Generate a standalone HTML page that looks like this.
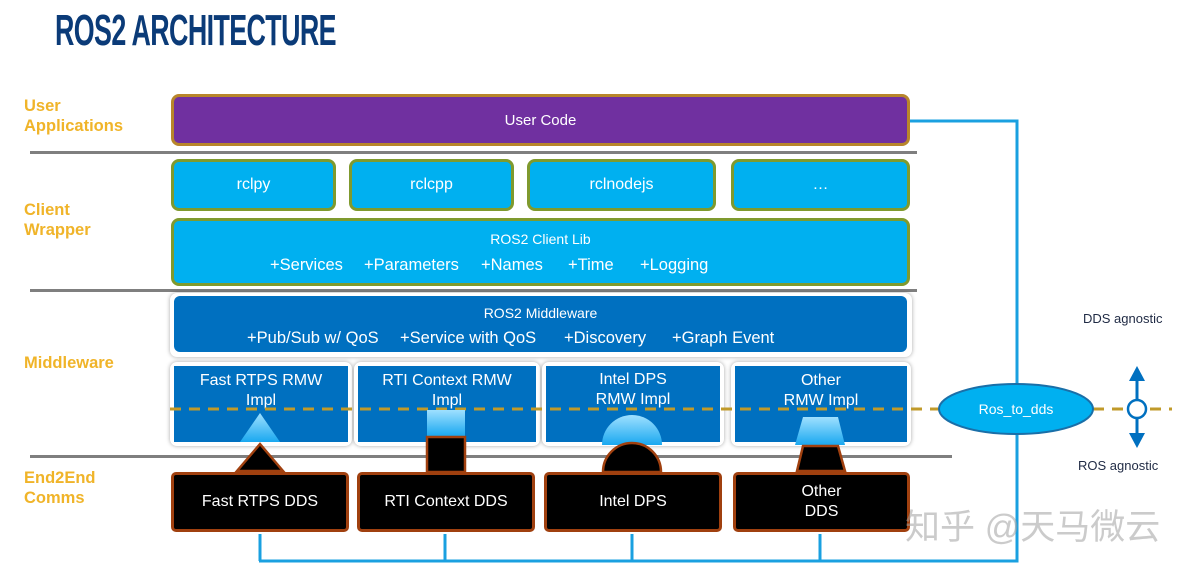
<!DOCTYPE html>
<html><head><meta charset="utf-8"><style>
body{margin:0;width:1195px;height:574px;background:#fff;position:relative;overflow:hidden;font-family:"Liberation Sans",Arial,sans-serif}
.a{position:absolute;box-sizing:border-box}
.lab{color:#f0b429;font-weight:bold;font-size:16.5px;line-height:20px;left:24px}
.g{background:#00b0f0;border:3px solid #7f9a2e;border-radius:8px;color:#fff;font-size:16px;display:flex;align-items:center;justify-content:center}
.sh{background:#fff;border-radius:7px;box-shadow:0 0 4px rgba(0,0,0,.35)}
.b{background:#0070c0;color:#fff;font-size:16px;text-align:center;line-height:20px}
.d{background:#000;border:3px solid #a0400f;border-radius:5px;color:#fff;font-size:16px;display:flex;align-items:center;justify-content:center;text-align:center;line-height:20px}
.t{position:absolute;color:#fff;font-size:16.5px;white-space:nowrap}
</style></head><body>
<div class="a" style="left:55px;top:6px;font-size:44px;font-weight:bold;color:#0b3b78;letter-spacing:-1px;transform:scaleX(0.61);transform-origin:left top;white-space:nowrap;font-family:'Liberation Sans Narrow','Liberation Sans',sans-serif">ROS2 ARCHITECTURE</div>
<div class="a lab" style="top:96px">User<br>Applications</div>
<div class="a lab" style="top:200px">Client<br>Wrapper</div>
<div class="a lab" style="top:353px">Middleware</div>
<div class="a lab" style="top:468px">End2End<br>Comms</div>
<div class="a" style="left:30px;top:151px;width:887px;height:3px;background:#7f7f7f"></div>
<div class="a" style="left:30px;top:289px;width:887px;height:3px;background:#7f7f7f"></div>
<div class="a" style="left:30px;top:455px;width:922px;height:3px;background:#7f7f7f"></div>
<div class="a" style="left:171px;top:94px;width:739px;height:52px;background:#7030a0;border:3px solid #b8862b;border-radius:8px;color:#fff;font-size:15px;display:flex;align-items:center;justify-content:center">User Code</div>
<div class="a g" style="left:171px;top:159px;width:165px;height:52px">rclpy</div>
<div class="a g" style="left:349px;top:159px;width:165px;height:52px">rclcpp</div>
<div class="a g" style="left:527px;top:159px;width:189px;height:52px">rclnodejs</div>
<div class="a g" style="left:731px;top:159px;width:179px;height:52px">…</div>
<div class="a g" style="left:171px;top:218px;width:739px;height:68px;display:block;text-align:center"><div style="font-size:14px;margin-top:10px">ROS2 Client Lib</div></div>
<span class="t" style="left:270px;top:256px">+Services</span>
<span class="t" style="left:364px;top:256px">+Parameters</span>
<span class="t" style="left:481px;top:256px">+Names</span>
<span class="t" style="left:568px;top:256px">+Time</span>
<span class="t" style="left:640px;top:256px">+Logging</span>
<div class="a sh" style="left:170px;top:293px;width:742px;height:64px"></div>
<div class="a b" style="left:174px;top:296px;width:733px;height:56px;border-radius:6px"><div style="font-size:14px;margin-top:7px">ROS2 Middleware</div></div>
<span class="t" style="left:247px;top:329px">+Pub/Sub w/ QoS</span>
<span class="t" style="left:400px;top:329px">+Service with QoS</span>
<span class="t" style="left:564px;top:329px">+Discovery</span>
<span class="t" style="left:672px;top:329px">+Graph Event</span>
<div class="a sh" style="left:170px;top:362px;width:182px;height:84px"></div>
<div class="a sh" style="left:354px;top:362px;width:186px;height:84px"></div>
<div class="a sh" style="left:542px;top:362px;width:182px;height:84px"></div>
<div class="a sh" style="left:731px;top:362px;width:180px;height:84px"></div>
<div class="a b" style="left:174px;top:366px;width:174px;height:76px;padding-top:5px">Fast RTPS RMW<br>Impl</div>
<div class="a b" style="left:358px;top:366px;width:178px;height:76px;padding-top:5px">RTI Context RMW<br>Impl</div>
<div class="a b" style="left:546px;top:366px;width:174px;height:76px;padding-top:4px">Intel DPS<br>RMW Impl</div>
<div class="a b" style="left:735px;top:366px;width:172px;height:76px;padding-top:5px">Other<br>RMW Impl</div>
<div class="a d" style="left:171px;top:472px;width:178px;height:60px">Fast RTPS DDS</div>
<div class="a d" style="left:357px;top:472px;width:178px;height:60px">RTI Context DDS</div>
<div class="a d" style="left:544px;top:472px;width:178px;height:60px">Intel DPS</div>
<div class="a d" style="left:733px;top:472px;width:177px;height:60px">Other<br>DDS</div>
<svg class="a" style="left:0;top:0" width="1195" height="574">
<defs><linearGradient id="lb" x1="0" y1="0" x2="0" y2="1"><stop offset="0" stop-color="#9fe0ff"/><stop offset="1" stop-color="#1aa8f0"/></linearGradient></defs>
<line x1="170" y1="409" x2="940" y2="409" stroke="#c09a2a" stroke-width="3" stroke-dasharray="11,8"/>
<line x1="1093" y1="409" x2="1172" y2="409" stroke="#c09a2a" stroke-width="3" stroke-dasharray="11,8"/>
<polygon points="260,413 240,442 280,442" fill="url(#lb)"/>
<polygon points="260,444 237,471 283,471" fill="#000" stroke="#a0400f" stroke-width="2.5"/>
<rect x="427" y="410" width="38" height="26" fill="url(#lb)"/>
<rect x="427" y="437" width="38" height="35" fill="#000" stroke="#a0400f" stroke-width="2.5"/>
<path d="M602,445 A30,30 0 0 1 662,445 Z" fill="url(#lb)"/>
<path d="M603,472 A29,29 0 0 1 661,472 Z" fill="#000" stroke="#a0400f" stroke-width="2.5"/>
<polygon points="803,417 838,417 845,445 795,445" fill="url(#lb)"/>
<polygon points="803,446 838,446 845,471 797,471" fill="#000" stroke="#a0400f" stroke-width="2.5"/>
<g stroke="#1aa0e0" stroke-width="3" fill="none">
<path d="M260,534 V561 M445,534 V561 M632,534 V561 M820,534 V561 M259,561 H1017 V121 H910"/>
</g>
<ellipse cx="1016" cy="409" rx="77" ry="25" fill="#00b0f0" stroke="#1a6fa8" stroke-width="2"/>
<text x="1016" y="414" fill="#fff" font-size="14" text-anchor="middle" font-family="Liberation Sans">Ros_to_dds</text>
<line x1="1137" y1="380" x2="1137" y2="436" stroke="#0070c0" stroke-width="3"/>
<polygon points="1137,366 1129,381 1145,381" fill="#0070c0"/>
<polygon points="1137,448 1129,433 1145,433" fill="#0070c0"/>
<circle cx="1137" cy="409" r="9" fill="#fff" stroke="#0070c0" stroke-width="2.5"/>
<text x="1083" y="323" fill="#1f2a44" font-size="13" font-family="Liberation Sans">DDS agnostic</text>
<text x="1078" y="470" fill="#1f2a44" font-size="13" font-family="Liberation Sans">ROS agnostic</text>
</svg>
<div class="a" style="left:905px;top:499px;font-size:35px;color:rgba(160,160,160,.55);font-family:'Liberation Sans','Noto Sans CJK SC',sans-serif;white-space:nowrap">知乎 @天马微云</div>
</body></html>
